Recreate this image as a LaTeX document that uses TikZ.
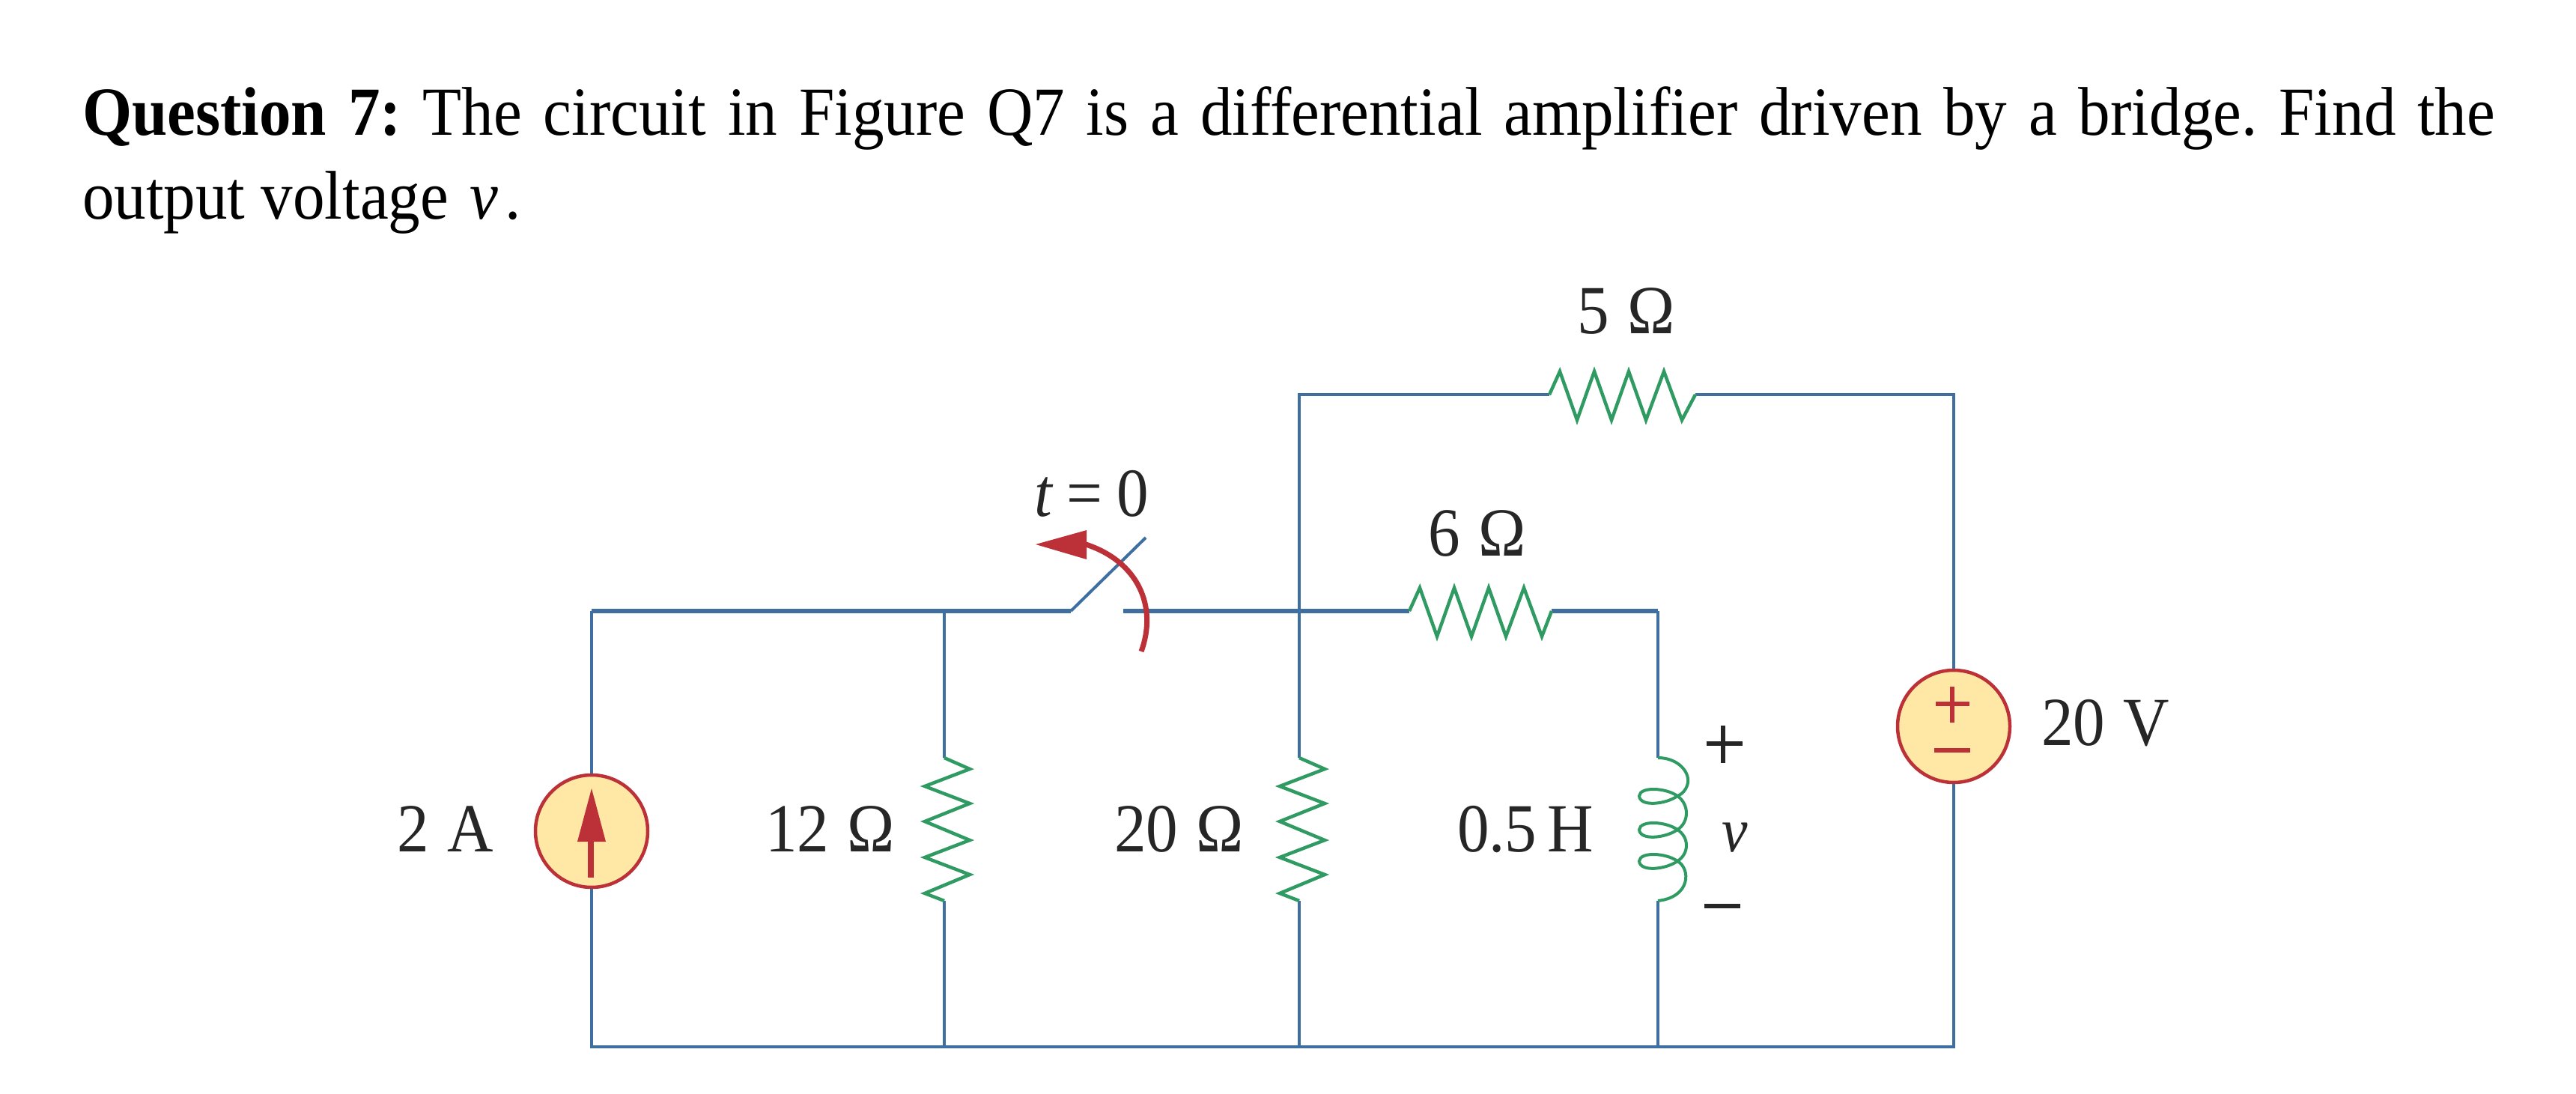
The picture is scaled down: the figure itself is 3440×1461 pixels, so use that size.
\documentclass[tikz,border=0pt]{standalone}
\usepackage{fontspec}
\setmainfont[FakeStretch=0.925]{Liberation Serif}
\definecolor{wire}{HTML}{3F6FA0}
\definecolor{rgreen}{HTML}{2F9A62}
\definecolor{sred}{HTML}{BC3038}
\definecolor{sfill}{HTML}{FFE8A6}
\newcommand{\tsp}{\hspace{0.27em}}
\tikzset{
  lbl/.style={anchor=base west,inner sep=0pt,outer sep=0pt,text=black!85,font=\fontsize{92}{100}\selectfont},
  para/.style={anchor=base west,inner sep=0pt,outer sep=0pt,text=black,font=\fontsize{92}{100}\selectfont\frenchspacing},
  wireline/.style={draw=wire,line width=4pt,line join=miter},
  midwire/.style={draw=wire,line width=5.5pt,line join=miter},
  comp/.style={draw=rgreen,line width=4.5pt,line join=miter},
  coil/.style={draw=rgreen,line width=4pt},
  src/.style={circle,draw=sred,fill=sfill,line width=4.5pt,minimum size=150pt,inner sep=0pt},
  redl/.style={draw=sred,line width=7pt},
  redh/.style={fill=sred,draw=none},
  srcsign/.style={draw=sred,line width=5.5pt},
  sign/.style={draw=black!85,line width=6.5pt}
}
\newcommand{\hzig}[1]{-- ++(14,-31) -- ++(23,65) -- ++(23,-65) -- ++(23,65) -- ++(23,-65) -- ++(23,65) -- ++(24,-65) -- ++(24,65) -- (#1)}
\newcommand{\vzig}[1]{-- ++(34,15) -- ++(-60,23) -- ++(60,23) -- ++(-60,24) -- ++(60,25) -- ++(-60,23) -- ++(60,23) -- ++(-60,25) -- (#1)}
\begin{document}
\begin{tikzpicture}[x=1pt,y=-1pt]
\useasboundingbox (0,0) rectangle (3440,1461);
\fill[white] (0,0) rectangle (3440,1461);
% text
\node[para] (q1) at (110,180) {\makebox[3222pt][s]{\textbf{Question 7:} The circuit in Figure Q7 is a differential amplifier driven by a bridge. Find the}};
\node[para] (q2) at (110,292) {output voltage \hspace{0.08em}\textit{v}\hspace{0.1em}.};
% junctions
\coordinate (tl) at (790,816);
\coordinate (bl) at (790,1398);
\coordinate (a12) at (1261,816);
\coordinate (b12) at (1261,1398);
\coordinate (r12a) at (1261,1012);
\coordinate (r12b) at (1261,1203);
\coordinate (t20) at (1735,527);
\coordinate (b20) at (1735,1398);
\coordinate (r20a) at (1735,1012);
\coordinate (r20b) at (1735,1203);
\coordinate (tr) at (2609,527);
\coordinate (br) at (2609,1398);
\coordinate (r5a) at (2069,527);
\coordinate (r5b) at (2264,527);
\coordinate (r6a) at (1882,816);
\coordinate (r6b) at (2072,816);
\coordinate (ltop) at (2214,816);
\coordinate (la) at (2214,1012);
\coordinate (lb) at (2214,1203);
\coordinate (lbot) at (2214,1398);
\coordinate (swl) at (1430,816);
\coordinate (swr) at (1500,816);
\coordinate (swt) at (1530,718);
% sources
\node[src] (is) at (790,1110) {};
\node[src] (vs) at (2609,970) {};
% wires
\draw[wireline] (is) -- (tl);
\draw[midwire] (tl) -- (a12) -- (swl);
\draw[wireline] (swl) -- (swt);
\draw[midwire] (swr) -- (r6a);
\draw[midwire] (r6b) -- (ltop);
\draw[wireline] (ltop) -- (la);
\draw[wireline] (is) -- (bl) -- (br) -- (vs);
\draw[wireline] (a12) -- (r12a);
\draw[wireline] (r12b) -- (b12);
\draw[wireline] (b20) -- (r20b);
\draw[wireline] (r20a) -- (t20) -- (r5a);
\draw[wireline] (r5b) -- (tr) -- (vs);
\draw[wireline] (lb) -- (lbot);
% resistors
\draw[comp] (r5a) \hzig{r5b};
\draw[comp] (r6a) \hzig{r6b};
\draw[comp] (r12a) \vzig{r12b};
\draw[comp] (r20a) \vzig{r20b};
% inductor
\draw[coil] (la) .. controls (2240,1012) and (2256,1030) .. (2254,1045)
  .. controls (2253,1052) and (2248,1060) .. (2240,1063)
  .. controls (2225,1074) and (2190,1078) .. (2189,1063)
  .. controls (2190,1050) and (2225,1052) .. (2240,1063)
  .. controls (2256,1074) and (2256,1098) .. (2240,1108)
  .. controls (2225,1119) and (2190,1123) .. (2189,1108)
  .. controls (2190,1095) and (2225,1097) .. (2240,1108)
  .. controls (2256,1118) and (2256,1140) .. (2240,1150)
  .. controls (2225,1161) and (2190,1165) .. (2189,1150)
  .. controls (2190,1137) and (2225,1139) .. (2240,1150)
  .. controls (2258,1160) and (2258,1198) .. (lb);
% source symbols
\draw[redl,line width=8pt] (789,1172) -- (789,1120);
\fill[redh] (790,1053) -- (809,1124) -- (771,1124) -- cycle;
\draw[srcsign] (2585,940) -- (2630,940) (2607,917) -- (2607,965);
\draw[srcsign] (2583,1002) -- (2631,1002);
% switch arrow
\draw[redl] (1524,870) .. controls (1546,810) and (1520,750) .. (1450,727);
\fill[redh] (1383,727) -- (1451,708) -- (1451,747) -- cycle;
% polarity marks
\draw[sign] (2279,993) -- (2327,993) (2301,969) -- (2301,1019);
\draw[sign] (2276,1210) -- (2324,1210);
% labels
\node[lbl] (l5) at (2106,445) {5\tsp Ω};
\node[lbl] (l6) at (1907,742) {6\tsp Ω};
\node[lbl] (lt) at (1381,689) {\textit{t}\hspace{0.2em}=\hspace{0.2em}0};
\node[lbl] (l2a) at (530,1137) {2\tsp A};
\node[lbl] (l12) at (1022,1137) {12\tsp Ω};
\node[lbl] (l20) at (1488,1137) {20\tsp Ω};
\node[lbl] (l05) at (1946,1137) {0.5\hspace{0.15em}H};
\node[lbl] (l20v) at (2726,995) {20\tsp V};
\node[lbl,font=\fontsize{84}{86}\selectfont] (lv) at (2299,1137) {\textit{v}};
\end{tikzpicture}
\end{document}
